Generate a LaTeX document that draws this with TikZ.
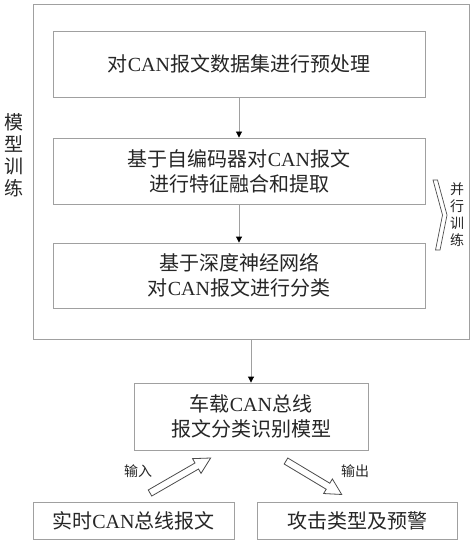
\documentclass[tikz,border=0pt]{standalone}
\usepackage{fontspec}
\setmainfont{Noto Sans CJK SC}
\newfontfamily\lat{Liberation Serif}
\usetikzlibrary{arrows.meta}
\definecolor{boxgray}{HTML}{A0A0A0}
\tikzset{
  box/.style={draw=boxgray, line width=0.9pt},
  txt/.style={font=\fontsize{20}{25}\selectfont, align=center, text=black!85},
  conn/.style={draw=boxgray, line width=0.9pt, -{Triangle[color=black, length=6pt, width=6pt]}},
  blockarrow/.style={draw=black!70, line width=0.8pt, fill=white},
}
\begin{document}
\begin{tikzpicture}[x=1pt, y=-1pt]
\useasboundingbox[fill=white] (0,0) rectangle (474,545);
% outer box
\draw[box] (33,4) rectangle (469,339);
\node[inner sep=0] (outer) at (251,171.5) [minimum width=436pt, minimum height=335pt] {};
% inner boxes
\node[box, minimum width=372pt, minimum height=66pt, inner sep=0] (b1) at (239,64) {};
\node[txt] at (239,64) {对{\lat CAN}报文数据集进行预处理};
\node[box, minimum width=372pt, minimum height=66pt, inner sep=0] (b2) at (239,171) {};
\node[txt] at (239,171) {基于自编码器对{\lat CAN}报文\\进行特征融合和提取};
\node[box, minimum width=372pt, minimum height=65pt, inner sep=0] (b3) at (239,275.5) {};
\node[txt] at (239,275.5) {基于深度神经网络\\对{\lat CAN}报文进行分类};
% model box
\node[box, minimum width=234pt, minimum height=67pt, inner sep=0] (b4) at (251,416.5) {};
\node[txt] at (251,416.5) {车载{\lat CAN}总线\\报文分类识别模型};
% bottom boxes
\node[box, minimum width=201pt, minimum height=37pt, inner sep=0] (b5) at (133.5,521) {};
\node[txt] at (133.5,521) {实时{\lat CAN}总线报文};
\node[box, minimum width=200pt, minimum height=37pt, inner sep=0] (b6) at (357,521) {};
\node[txt] at (357,521) {攻击类型及预警};
% connectors
\draw[conn] (b1.south) -- (b2.north);
\draw[conn] (b2.south) -- (b3.north);
\draw[conn] (outer.south) -- (b4.north);
% left vertical label
\node[font=\fontsize{19}{22}\selectfont, align=center, text=black!85] (lbl) at (14,155) {模\\型\\训\\练};
% chevron
\draw[draw=black!70, line width=0.7pt, fill=white] (433,180) -- (437.5,180) -- (447,215) -- (440,250) -- (435.5,250) -- (442.5,215) -- cycle;
\node[font=\fontsize{14}{17}\selectfont, align=center, text=black!85] (par) at (457,215) {并\\行\\训\\练};
% block arrows
\draw[blockarrow, shift={(150,493)}, rotate=30] (0,-3.5) -- (54,-3.5) -- (54,-8.5) -- (70,0) -- (54,8.5) -- (54,3.5) -- (0,3.5) -- cycle;
\node[font=\fontsize{14}{17}\selectfont, text=black!85] (in) at (138,471) {输入};
\draw[blockarrow, shift={(286,461)}, rotate=-31] (0,-3.5) -- (49,-3.5) -- (49,-8.5) -- (65,0) -- (49,8.5) -- (49,3.5) -- (0,3.5) -- cycle;
\node[font=\fontsize{14}{17}\selectfont, text=black!85] (out) at (355,471) {输出};
\end{tikzpicture}
\end{document}
